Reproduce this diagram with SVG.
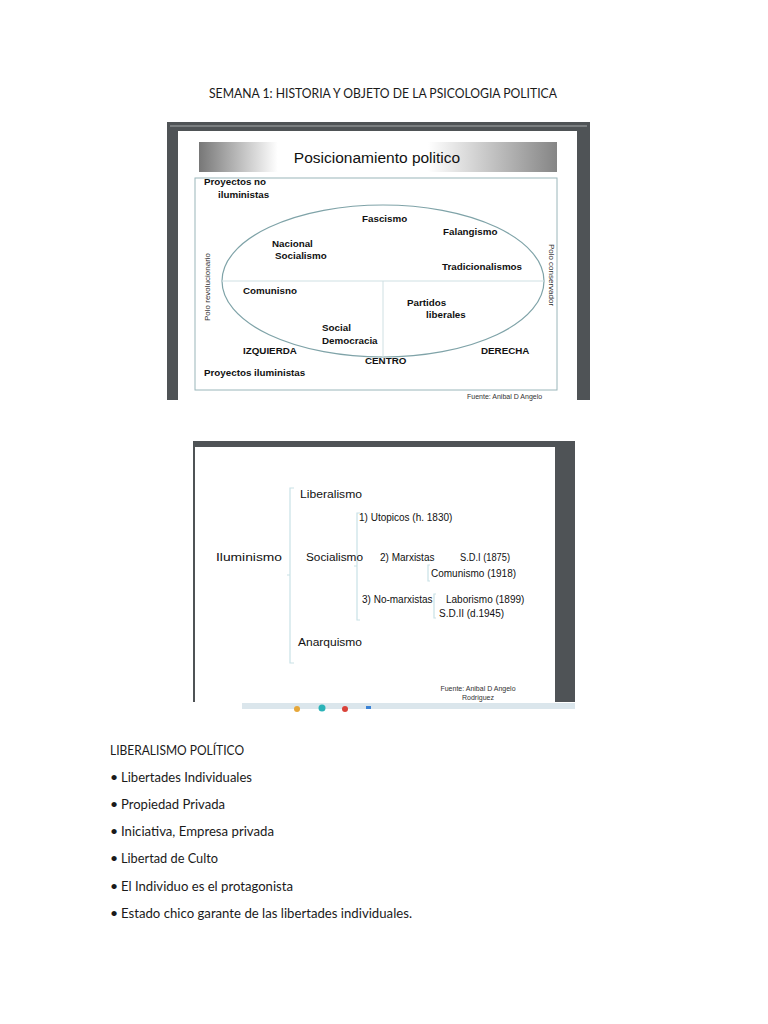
<svg xmlns="http://www.w3.org/2000/svg" width="768" height="1024" viewBox="0 0 768 1024">
<defs>
<linearGradient id="banner" x1="0" y1="0" x2="1" y2="0">
<stop offset="0" stop-color="#777"/>
<stop offset="0.22" stop-color="#fff"/>
<stop offset="0.64" stop-color="#fff"/>
<stop offset="1" stop-color="#858585"/>
</linearGradient>
<style>
.doc{font-family:Lato,"Open Sans","Liberation Sans",sans-serif;font-size:14px;fill:#1a1a1a}
.b{font-family:"Liberation Sans",Arial,sans-serif;font-weight:bold;font-size:9.8px;fill:#111}
.r{font-family:"Liberation Sans",Arial,sans-serif;font-size:10px;fill:#111}
.side{font-family:"Liberation Sans",Arial,sans-serif;font-size:8px;fill:#333}
.src{font-family:"Liberation Sans",Arial,sans-serif;font-size:7px;fill:#333}
.br{fill:none;stroke:#c9e2e6;stroke-width:1.2}
</style>
</defs>
<rect width="768" height="1024" fill="#fff"/>
<text class="doc" x="383" y="98" text-anchor="middle" textLength="348" lengthAdjust="spacingAndGlyphs">SEMANA 1: HISTORIA Y OBJETO DE LA PSICOLOGIA POLITICA</text>

<!-- Top image -->
<g id="img1">
<rect x="167" y="122" width="423" height="278" fill="#4f5356"/>
<rect x="170" y="125" width="417" height="2" fill="#7a7e80"/>
<rect x="178" y="131" width="399" height="269" fill="#fff"/>
<rect x="199" y="142" width="358" height="30" fill="url(#banner)"/>
<text x="377" y="163" text-anchor="middle" font-family="Liberation Sans,Arial,sans-serif" font-size="15.5" fill="#111">Posicionamiento politico</text>
<rect x="195" y="178" width="362" height="212" fill="none" stroke="#9ab6ba" stroke-width="1"/>
</g>
<g id="connectors">
<ellipse cx="383" cy="281" rx="161" ry="76" fill="none" stroke="#7fa3a8" stroke-width="1.2"/>
<line x1="222" y1="281" x2="544" y2="281" stroke="#cfe0e3" stroke-width="1"/>
<line x1="383" y1="281" x2="383" y2="357" stroke="#cfe0e3" stroke-width="1"/>
</g>
<g id="labels1">
<text class="b" x="204" y="185">Proyectos no</text>
<text class="b" x="218" y="198">iluministas</text>
<text class="b" x="362" y="222">Fascismo</text>
<text class="b" x="443" y="235">Falangismo</text>
<text class="b" x="272" y="247">Nacional</text>
<text class="b" x="275" y="259">Socialismo</text>
<text class="b" x="442" y="270">Tradicionalismos</text>
<text class="b" x="243" y="294">Comunisno</text>
<text class="b" x="407" y="306">Partidos</text>
<text class="b" x="426" y="318">liberales</text>
<text class="b" x="322" y="331">Social</text>
<text class="b" x="322" y="344">Democracia</text>
<text class="b" x="243" y="354">IZQUIERDA</text>
<text class="b" x="365" y="364">CENTRO</text>
<text class="b" x="481" y="354">DERECHA</text>
<text class="b" x="204" y="376">Proyectos iluministas</text>
<text class="side" transform="translate(210,287) rotate(-90)" text-anchor="middle">Polo revolucionario</text>
<text class="side" transform="translate(549,275) rotate(90)" text-anchor="middle">Polo conservador</text>
<text class="src" x="467" y="399" font-size="7.5">Fuente: Anibal D Angelo</text>
</g>

<!-- Second image -->
<g id="img2">
<rect x="193" y="441" width="382" height="261" fill="#4f5356"/>
<rect x="195" y="447" width="360" height="255" fill="#fff"/>
<rect x="242" y="703" width="333" height="6" fill="#dbe6ec"/>
<circle cx="297" cy="709" r="3" fill="#e6a73a"/>
<circle cx="322" cy="708" r="3.5" fill="#2bb3b8"/>
<circle cx="345" cy="709" r="3" fill="#d9423a"/>
<rect x="366" y="706" width="5" height="3" fill="#3b82d6"/>
</g>
<g id="brackets">
<path class="br" d="M294,488 H290 V663 H294 M290,575 H287"/>
<path class="br" d="M360,513 H357 V620 H360 M357,566 H354"/>
<path class="br" d="M430,565 H428 V581 H430"/>
<path class="br" d="M436,594 H434 V618 H436"/>
</g>
<g id="labels2">
<text class="r" x="300" y="498" font-size="11.5" textLength="62" lengthAdjust="spacingAndGlyphs">Liberalismo</text>
<text class="r" x="359" y="521">1) Utopicos (h. 1830)</text>
<text class="r" x="216" y="561" font-size="13" textLength="66" lengthAdjust="spacingAndGlyphs">Iluminismo</text>
<text class="r" x="306" y="561" font-size="11.5" textLength="57" lengthAdjust="spacingAndGlyphs">Socialismo</text>
<text class="r" x="380" y="561">2) Marxistas</text>
<text class="r" x="460" y="561" textLength="50" lengthAdjust="spacingAndGlyphs">S.D.I (1875)</text>
<text class="r" x="431" y="577">Comunismo (1918)</text>
<text class="r" x="362" y="603">3) No-marxistas</text>
<text class="r" x="446" y="603">Laborismo (1899)</text>
<text class="r" x="439" y="617">S.D.II (d.1945)</text>
<text class="r" x="298" y="646" font-size="11.5" textLength="64" lengthAdjust="spacingAndGlyphs">Anarquismo</text>
<text class="src" x="478" y="691" text-anchor="middle">Fuente: Anibal D Angelo</text>
<text class="src" x="478" y="700" text-anchor="middle">Rodriguez</text>
</g>

<!-- Text -->
<g id="text">
<text class="doc" x="110" y="755" textLength="134" lengthAdjust="spacingAndGlyphs">LIBERALISMO POLÍTICO</text>
<text class="doc" x="110" y="782">•</text>
<text class="doc" x="121" y="782" textLength="131" lengthAdjust="spacingAndGlyphs">Libertades Individuales</text>
<text class="doc" x="110" y="809">•</text>
<text class="doc" x="121" y="809" textLength="104" lengthAdjust="spacingAndGlyphs">Propiedad Privada</text>
<text class="doc" x="110" y="836">•</text>
<text class="doc" x="121" y="836" textLength="153" lengthAdjust="spacingAndGlyphs">Iniciativa, Empresa privada</text>
<text class="doc" x="110" y="863">•</text>
<text class="doc" x="121" y="863" textLength="97" lengthAdjust="spacingAndGlyphs">Libertad de Culto</text>
<text class="doc" x="110" y="891">•</text>
<text class="doc" x="121" y="891" textLength="172" lengthAdjust="spacingAndGlyphs">El Individuo es el protagonista</text>
<text class="doc" x="110" y="918">•</text>
<text class="doc" x="121" y="918" textLength="291" lengthAdjust="spacingAndGlyphs">Estado chico garante de las libertades individuales.</text>
</g>
</svg>
